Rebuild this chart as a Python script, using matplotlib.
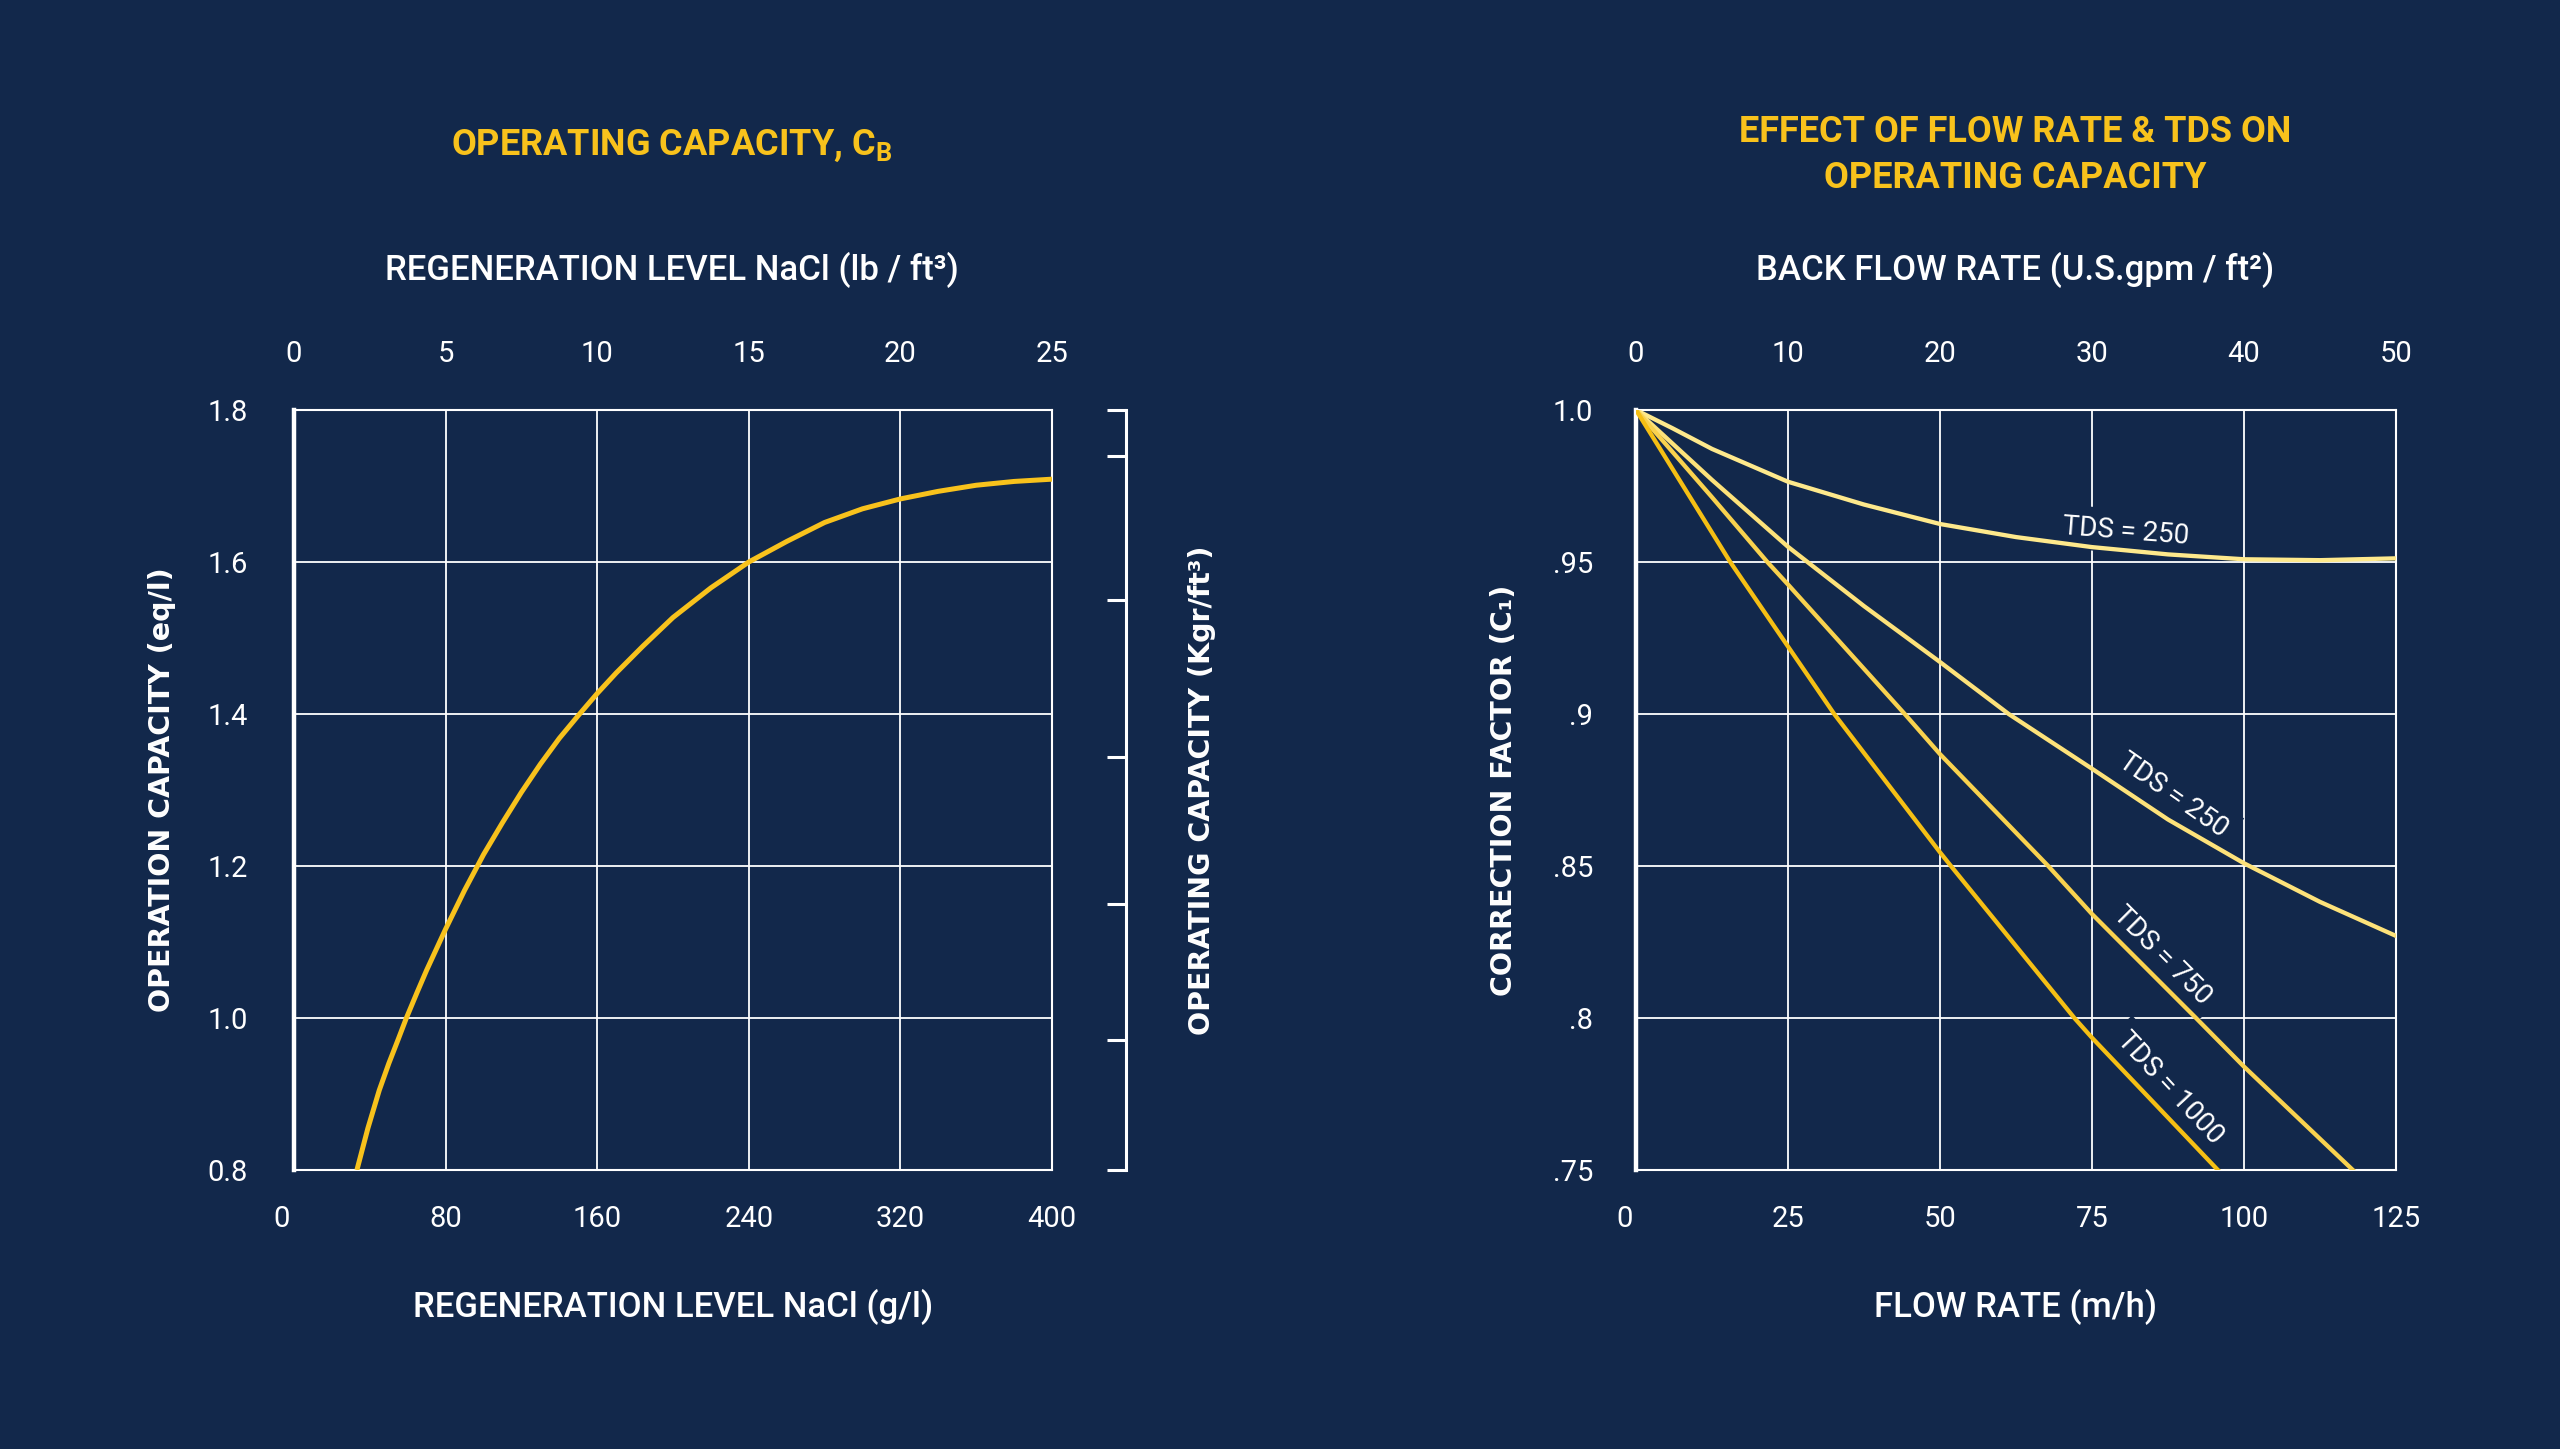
import matplotlib
matplotlib.use("Agg")
import matplotlib.pyplot as plt
import matplotlib.transforms as mtransforms

# colours
BG = "#12284b"
YELLOW = "#f8c21c"
WHITE = "#ffffff"

plt.rcParams['font.family'] = ['Roboto', 'DejaVu Sans']
plt.rcParams['mathtext.fontset'] = 'custom'
plt.rcParams['mathtext.rm'] = 'Roboto'
plt.rcParams['mathtext.bf'] = 'Roboto:bold'

# ---- left chart: operating capacity vs regeneration level ----
regen_gl = [33.2, 39, 45, 50, 55, 59.3, 65, 70, 75, 80, 90, 100, 110, 120, 130, 140, 150,
            160, 170, 184, 200, 220, 240, 260, 280, 300, 320, 340, 360, 380, 400]
capacity_eql = [0.80, 0.855, 0.905, 0.940, 0.972, 1.00, 1.034, 1.063, 1.090, 1.117, 1.168,
                1.215, 1.257, 1.297, 1.334, 1.368, 1.398, 1.427, 1.454, 1.489, 1.527, 1.566,
                1.600, 1.627, 1.652, 1.670, 1.683, 1.693, 1.701, 1.706, 1.709]
regen_gl_ticks = [0, 80, 160, 240, 320, 400]
regen_lb_ticks = [0, 5, 10, 15, 20, 25]
capacity_ticks = [0.8, 1.0, 1.2, 1.4, 1.6, 1.8]
capacity_tick_labels = ["0.8", "1.0", "1.2", "1.4", "1.6", "1.8"]
kgr_tick_pos = [0.80, 0.971, 1.150, 1.343, 1.550, 1.739, 1.80]

# ---- right chart: correction factor vs flow rate ----
flow_250a = [0, 6, 12.5, 25, 37.5, 50, 62.5, 75, 87.5, 100, 112.5, 125]
corr_250a = [1.0, 0.994, 0.9872, 0.9764, 0.9689, 0.9625, 0.9582, 0.9549, 0.9525, 0.9509, 0.9506, 0.9512]
flow_250b = [0, 12.5, 25, 37.5, 50, 61.3, 75, 87.5, 100, 112.5, 125]
corr_250b = [1.0, 0.977, 0.955, 0.9355, 0.9171, 0.90, 0.882, 0.8653, 0.8509, 0.8382, 0.827]
flow_750 = [0, 12.5, 21.6, 25, 44.2, 50, 67.8, 75, 92.1, 100, 117.9]
corr_750 = [1.0, 0.9713, 0.95, 0.9426, 0.90, 0.8868, 0.85, 0.8342, 0.80, 0.784, 0.75]
flow_1000 = [0, 15.5, 25, 32.6, 50, 51.8, 72.1, 75, 95.7]
corr_1000 = [1.0, 0.95, 0.9222, 0.90, 0.8545, 0.85, 0.80, 0.7935, 0.75]
flow_ticks = [0, 25, 50, 75, 100, 125]
backflow_ticks = [0, 10, 20, 30, 40, 50]
corr_ticks = [0.75, 0.80, 0.85, 0.90, 0.95, 1.0]
corr_tick_labels = [".75", ".8", ".85", ".9", ".95", "1.0"]

tds_labels = ["TDS = 250", "TDS = 250", "TDS = 750", "TDS = 1000"]
tds_label_x = [80.5, 88.3, 86.5, 87.9]
tds_label_y = [0.9601, 0.8733, 0.8206, 0.7768]
tds_label_rot = [-4.5, -35, -45, -47]

curve_colors = ["#fee98c", "#fde27a", "#f9d24e", "#f5bf14"]

fig = plt.figure(figsize=(25.6, 14.49), dpi=100, facecolor=BG)


def style_axes(ax, ypad):
    ax.set_facecolor(BG)
    ax.grid(True, color=WHITE, lw=1.3)
    ax.set_axisbelow(True)
    for side in ['top', 'right', 'bottom']:
        ax.spines[side].set_color(WHITE)
        ax.spines[side].set_linewidth(1.5)
    ax.spines['left'].set_color(WHITE)
    ax.spines['left'].set_linewidth(3.2)
    ax.tick_params(axis='x', length=0, pad=25, labelsize=21, colors=WHITE)
    ax.tick_params(axis='y', length=0, pad=ypad, labelsize=21, colors=WHITE)


def nudge_first_xlabel(ax, dx_px):
    # the "0" under each chart sits a little left of the axis corner
    t0 = ax.xaxis.get_major_ticks()[0]
    shift = mtransforms.ScaledTranslation(dx_px / 100, 0, fig.dpi_scale_trans)
    t0.label1.set_transform(t0.label1.get_transform() + shift)


# left axes
ax1 = fig.add_axes([294 / 2560, 1 - 1170 / 1449, 758 / 2560, 760 / 1449])
style_axes(ax1, 33)
ax1.plot(regen_gl, capacity_eql, color=YELLOW, lw=3.6, solid_capstyle='butt', zorder=3)
ax1.set_xlim(0, 400)
ax1.set_ylim(0.8, 1.8)
ax1.set_xticks(regen_gl_ticks)
ax1.set_yticks(capacity_ticks)
ax1.set_yticklabels(capacity_tick_labels)
nudge_first_xlabel(ax1, -12)

top1 = ax1.secondary_xaxis('top', functions=(lambda g: g / 16, lambda lb: lb * 16))
top1.set_xticks(regen_lb_ticks)
top1.tick_params(length=0, pad=30, labelsize=21, colors=WHITE)
top1.spines['top'].set_visible(False)

tw = ax1.twinx()
tw.set_ylim(0.8, 1.8)
tw.set_yticks(kgr_tick_pos)
tw.set_yticklabels([])
for side in ['top', 'left', 'bottom']:
    tw.spines[side].set_visible(False)
tw.spines['right'].set_position(('outward', 53))
tw.spines['right'].set_color(WHITE)
tw.spines['right'].set_linewidth(2.2)
tw.tick_params(axis='y', direction='in', length=13.5, width=2.2, color=WHITE)

ax1.set_xlabel("REGENERATION LEVEL NaCl (g/l)", color=WHITE, fontsize=25,
               fontweight='medium', va='center')
ax1.xaxis.set_label_coords(0.5, -0.1796)
ax1.set_ylabel("OPERATION CAPACITY (eq/l)", color=WHITE, fontsize=20.5,
               family='DejaVu Sans', fontweight='bold', va='center')
ax1.yaxis.set_label_coords(-0.1745, 0.5)
tw.set_ylabel("OPERATING CAPACITY (Kgr/ft³)", color=WHITE, fontsize=20.5,
              family='DejaVu Sans', fontweight='bold', va='center', rotation=90)
tw.yaxis.set_label_coords(1.198, 0.5)

fig.text(672 / 2560, 1 - 146 / 1449, r"OPERATING CAPACITY, C$_\mathbf{B}$", color=YELLOW,
         fontsize=26, fontweight='bold', ha='center', va='center')
fig.text(672 / 2560, 1 - 270 / 1449, "REGENERATION LEVEL NaCl (lb / ft³)", color=WHITE,
         fontsize=25, fontweight='medium', ha='center', va='center')

# right axes
ax2 = fig.add_axes([1636 / 2560, 1 - 1170 / 1449, 760 / 2560, 760 / 1449])
style_axes(ax2, 31)
series = [(flow_250a, corr_250a), (flow_250b, corr_250b), (flow_750, corr_750), (flow_1000, corr_1000)]
for (fx, fy), col in zip(series, curve_colors):
    ax2.plot(fx, fy, color=col, lw=3.1, zorder=3)
ax2.set_xlim(0, 125)
ax2.set_ylim(0.75, 1.0)
ax2.set_xticks(flow_ticks)
ax2.set_yticks(corr_ticks)
ax2.set_yticklabels(corr_tick_labels)
nudge_first_xlabel(ax2, -11)

top2 = ax2.secondary_xaxis('top', functions=(lambda q: q / 2.5, lambda b: b * 2.5))
top2.set_xticks(backflow_ticks)
top2.tick_params(length=0, pad=30, labelsize=21, colors=WHITE)
top2.spines['top'].set_visible(False)

for txt, lx, ly, rot in zip(tds_labels, tds_label_x, tds_label_y, tds_label_rot):
    ax2.text(lx, ly, txt, color=WHITE, fontsize=20, rotation=rot, rotation_mode='anchor',
             ha='center', va='center', zorder=1.5,
             bbox=dict(boxstyle='square,pad=0.3', fc=BG, ec='none'))

ax2.set_xlabel("FLOW RATE (m/h)", color=WHITE, fontsize=25, fontweight='medium', va='center')
ax2.xaxis.set_label_coords(0.5, -0.1796)
ax2.set_ylabel("CORRECTION FACTOR (C₁)", color=WHITE, fontsize=20.5,
               family='DejaVu Sans', fontweight='bold', va='center')
ax2.yaxis.set_label_coords(-0.1737, 0.5)

fig.text(2015 / 2560, 1 - 131.5 / 1449, "EFFECT OF FLOW RATE & TDS ON", color=YELLOW,
         fontsize=26, fontweight='bold', ha='center', va='center')
fig.text(2015 / 2560, 1 - 178 / 1449, "OPERATING CAPACITY", color=YELLOW,
         fontsize=26, fontweight='bold', ha='center', va='center')
fig.text(2015 / 2560, 1 - 270 / 1449, "BACK FLOW RATE (U.S.gpm / ft²)", color=WHITE,
         fontsize=25, fontweight='medium', ha='center', va='center')

fig.savefig("out.png", dpi=100, facecolor=BG)
